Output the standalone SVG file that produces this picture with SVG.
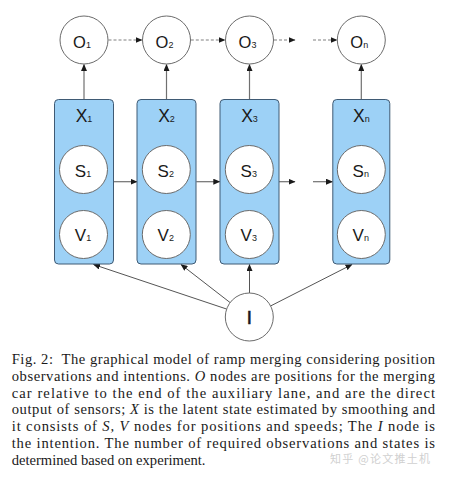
<svg xmlns="http://www.w3.org/2000/svg" width="449" height="479" viewBox="0 0 449 479">
<defs>
<marker id="ah" markerWidth="7" markerHeight="6" refX="6.5" refY="3" orient="auto" markerUnits="userSpaceOnUse">
<path d="M0,0 L7,3 L0,6 Z" fill="#1a1a1a"/>
</marker>
<style>
.circ{fill:#fff;stroke:#6b6b6b;stroke-width:1}
.box{fill:#9dd1f6;stroke:#3f5a74;stroke-width:1}
.lbl{font-family:"Liberation Sans",Arial,sans-serif;fill:#1a1a1a;text-anchor:middle}
.sub{font-size:9px}
.c{stroke:#707070;stroke-width:1.2;fill:none;marker-end:url(#ah)}
.d{stroke:#808080;stroke-width:1.2;fill:none;stroke-dasharray:3 2;marker-end:url(#ah)}
.ci{stroke:#555;stroke-width:1;fill:none;marker-end:url(#ah)}
.cap{font-family:"Liberation Serif","Times New Roman",serif;font-size:14.6px;fill:#1a1a1a;white-space:pre}
</style>
</defs>
<rect width="449" height="479" fill="#fff"/>
<g id="connectors">
<line class="d" x1="108.5" y1="40" x2="142" y2="40"/>
<line class="d" x1="190.8" y1="40" x2="225" y2="40"/>
<line class="d" x1="274" y1="40" x2="295" y2="40"/>
<line class="d" x1="313" y1="40" x2="337" y2="40"/>
<line class="c" x1="84" y1="99.5" x2="84" y2="64.5"/>
<line class="c" x1="166.5" y1="99.5" x2="166.5" y2="64.5"/>
<line class="c" x1="249.5" y1="99.5" x2="249.5" y2="64.5"/>
<line class="c" x1="361.3" y1="99.5" x2="361.3" y2="64.5"/>
<line class="c" x1="113.5" y1="181.7" x2="137" y2="181.7"/>
<line class="c" x1="196.3" y1="181.7" x2="219.8" y2="181.7"/>
<line class="c" x1="279" y1="181.7" x2="295" y2="181.7"/>
<line class="c" x1="313" y1="181.7" x2="332.5" y2="181.7"/>
<line class="ci" x1="226.5" y1="309" x2="93.5" y2="264.5"/>
<line class="ci" x1="230" y1="302.5" x2="181" y2="264.5"/>
<line class="ci" x1="249.5" y1="293" x2="249.5" y2="264.5"/>
<line class="ci" x1="270.5" y1="306" x2="352" y2="264.5"/>
</g>
<g id="O1"><circle class="circ" cx="84" cy="40" r="24"/><text class="lbl" x="82" y="47.5" font-size="16.5">O<tspan class="sub">1</tspan></text></g>
<g id="O2"><circle class="circ" cx="166.5" cy="40" r="24"/><text class="lbl" x="164.5" y="47.5" font-size="16.5">O<tspan class="sub">2</tspan></text></g>
<g id="O3"><circle class="circ" cx="249.5" cy="40" r="24"/><text class="lbl" x="247.5" y="47.5" font-size="16.5">O<tspan class="sub">3</tspan></text></g>
<g id="On"><circle class="circ" cx="361.3" cy="40" r="24"/><text class="lbl" x="359.3" y="47.5" font-size="16.5">O<tspan class="sub">n</tspan></text></g>
<g id="X1"><rect class="box" x="54.5" y="99.5" width="59" height="164.5" rx="4"/><text class="lbl" x="84" y="122" font-size="17.5">X<tspan class="sub">1</tspan></text>
<g id="S1"><circle class="circ" cx="83.5" cy="169.5" r="24"/><text class="lbl" x="83" y="177" font-size="17">S<tspan class="sub">1</tspan></text></g>
<g id="V1"><circle class="circ" cx="83.5" cy="234.5" r="24"/><text class="lbl" x="83" y="240.5" font-size="17">V<tspan class="sub">1</tspan></text></g></g>
<g id="X2"><rect class="box" x="137" y="99.5" width="59" height="164.5" rx="4"/><text class="lbl" x="166.5" y="122" font-size="17.5">X<tspan class="sub">2</tspan></text>
<g id="S2"><circle class="circ" cx="166.3" cy="169.5" r="24"/><text class="lbl" x="165.8" y="177" font-size="17">S<tspan class="sub">2</tspan></text></g>
<g id="V2"><circle class="circ" cx="166.3" cy="234.5" r="24"/><text class="lbl" x="165.8" y="240.5" font-size="17">V<tspan class="sub">2</tspan></text></g></g>
<g id="X3"><rect class="box" x="220" y="99.5" width="59" height="164.5" rx="4"/><text class="lbl" x="249.5" y="122" font-size="17.5">X<tspan class="sub">3</tspan></text>
<g id="S3"><circle class="circ" cx="249.3" cy="169.5" r="24"/><text class="lbl" x="248.8" y="177" font-size="17">S<tspan class="sub">3</tspan></text></g>
<g id="V3"><circle class="circ" cx="249.3" cy="234.5" r="24"/><text class="lbl" x="248.8" y="240.5" font-size="17">V<tspan class="sub">3</tspan></text></g></g>
<g id="Xn"><rect class="box" x="332.8" y="99.5" width="57" height="164.5" rx="4"/><text class="lbl" x="361.3" y="122" font-size="17.5">X<tspan class="sub">n</tspan></text>
<g id="Sn"><circle class="circ" cx="361.3" cy="169.5" r="24"/><text class="lbl" x="360.8" y="177" font-size="17">S<tspan class="sub">n</tspan></text></g>
<g id="Vn"><circle class="circ" cx="361.3" cy="234.5" r="24"/><text class="lbl" x="360.8" y="240.5" font-size="17">V<tspan class="sub">n</tspan></text></g></g>
<g id="I"><circle class="circ" cx="249.3" cy="317" r="24"/><text class="lbl" x="249.3" y="323.5" font-size="18.5" stroke="#1a1a1a" stroke-width="0.6">I</text></g>
<g id="caption">
<text class="cap" x="11.7" y="364" textLength="423.3" lengthAdjust="spacing">Fig. 2:  The graphical model of ramp merging considering position</text>
<text class="cap" x="11.7" y="380.8" textLength="423.3" lengthAdjust="spacing">observations and intentions. <tspan font-style="italic">O</tspan> nodes are positions for the merging</text>
<text class="cap" x="11.7" y="397.6" textLength="423.3" lengthAdjust="spacing">car relative to the end of the auxiliary lane, and are the direct</text>
<text class="cap" x="11.7" y="414.4" textLength="423.3" lengthAdjust="spacing">output of sensors; <tspan font-style="italic">X</tspan> is the latent state estimated by smoothing and</text>
<text class="cap" x="11.7" y="431.2" textLength="423.3" lengthAdjust="spacing">it consists of <tspan font-style="italic">S, V</tspan> nodes for positions and speeds; The <tspan font-style="italic">I</tspan> node is</text>
<text class="cap" x="11.7" y="448" textLength="423.3" lengthAdjust="spacing">the intention. The number of required observations and states is</text>
<text class="cap" x="11.7" y="464.8">determined based on experiment.</text>
<text x="330" y="463" font-family="'Noto Sans CJK SC',sans-serif" font-size="11" fill="#d0d0d0" textLength="100" lengthAdjust="spacing">知乎 @论文推土机</text>
</g>
</svg>
